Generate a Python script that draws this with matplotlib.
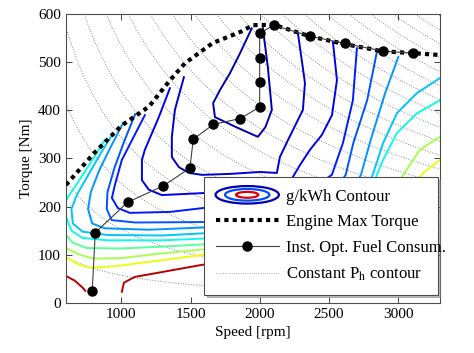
import numpy as np
import matplotlib.pyplot as plt
from matplotlib.legend_handler import HandlerBase
from matplotlib.patches import Ellipse
from matplotlib.lines import Line2D

plt.rcParams['font.family'] = ['Liberation Serif', 'DejaVu Serif']
plt.rcParams['mathtext.fontset'] = 'stix'
plt.rcParams['font.size'] = 11

# engine max torque line
mt_speed = [600, 800, 1000, 1200, 1350, 1460, 1660, 1860, 1950, 2100, 2360, 2610, 2880, 3100, 3300]
mt_torque = [245, 310, 368, 408, 462, 498, 540, 563, 577, 578, 554, 538, 523, 519, 515]

# instantaneous optimal fuel consumption points
opt_speed = [790, 812, 1045, 1303, 1495, 1520, 1665, 1860, 1999, 1999, 1999, 1999, 2100, 2365, 2614, 2890, 3105]
opt_torque = [25, 146, 209, 243, 280, 340, 371, 383, 407, 459, 508, 560, 577, 554, 539, 523, 519]

# constant power levels [kW]
p_levels = [6, 16, 26, 36, 46, 56, 66, 76, 86, 96, 106, 116, 126, 136, 146, 156, 166, 176, 186, 196, 206]

# bsfc contour lines (speed rpm, torque Nm), with jet colour position
c1_speed = [1941, 1856, 1784, 1712, 1663, 1676, 1830, 1986, 2040, 2087, 2058, 2022]
c1_torque = [570, 518, 477, 442, 415, 386, 365, 345, 365, 401, 490, 571]
c2_speed = [1452, 1387, 1365, 1365, 1416, 1488, 1582, 1784, 2001, 2123, 2145, 2203, 2311, 2326, 2275]
c2_torque = [469, 401, 345, 303, 282, 270, 266, 268, 272, 270, 303, 338, 401, 457, 561]
c3_speed = [1351, 1271, 1170, 1149, 1149, 1199, 1293, 1582, 1928, 2217, 2289, 2362, 2448, 2521, 2557, 2528]
c3_torque = [446, 386, 318, 297, 255, 235, 224, 228, 235, 251, 286, 318, 349, 390, 463, 542]
c4_speed = [1170, 1077, 1004, 954, 932, 975, 1062, 1351, 1589, 2001, 2362, 2520, 2600, 2672, 2701]
c4_torque = [390, 338, 297, 245, 218, 197, 187, 189, 197, 214, 235, 266, 332, 421, 529]
c5_speed = [1100, 1020, 950, 900, 895, 930, 1100, 1620, 2200, 2520, 2620, 2675, 2775, 2845]
c5_torque = [392, 335, 280, 230, 195, 172, 167, 168, 190, 225, 266, 332, 421, 521]
c6_speed = [1010, 920, 840, 780, 760, 790, 880, 1200, 1620, 2300, 2650, 2730, 2800, 2905, 3000]
c6_torque = [372, 322, 275, 230, 195, 165, 155, 152, 157, 180, 225, 266, 338, 436, 511]
c7_speed = [940, 850, 760, 680, 640, 650, 720, 900, 1300, 1620, 2400, 2750, 2815, 2890, 2990, 3135, 3300]
c7_torque = [352, 310, 265, 225, 195, 165, 148, 141, 140, 145, 170, 225, 266, 332, 394, 436, 467]
c8a_speed = [880, 780, 690, 620, 600]
c8a_torque = [338, 292, 252, 222, 212]
c8_speed = [600, 640, 720, 900, 1300, 1620, 2500, 2800, 2845, 2890, 2990, 3135, 3300]
c8_torque = [180, 150, 135, 130, 130, 134, 160, 225, 266, 297, 353, 394, 421]
c9_speed = [600, 650, 750, 1000, 1300, 1620, 2600, 3300]
c9_torque = [141, 125, 114, 113, 117, 122, 150, 190]
c10_speed = [600, 700, 800, 1000, 1300, 1620, 2700, 2950, 3035, 3155, 3300]
c10_torque = [114, 100, 92, 93, 103, 112, 160, 230, 266, 318, 345]
c11_speed = [600, 690, 780, 950, 1300, 1620, 2800, 3100, 3180, 3300]
c11_torque = [95, 80, 73, 76, 89, 101, 150, 240, 270, 297]
c12a_speed = [600, 665, 723, 740]
c12a_torque = [56, 46, 31, 25]
c12_speed = [1004, 1019, 1098, 1293, 1582, 1800]
c12_torque = [23, 42, 54, 64, 79, 85]

contours = [
    (c1_speed, c1_torque, 0.04), (c2_speed, c2_torque, 0.07), (c3_speed, c3_torque, 0.10),
    (c4_speed, c4_torque, 0.15), (c5_speed, c5_torque, 0.21), (c6_speed, c6_torque, 0.27),
    (c7_speed, c7_torque, 0.32), (c8a_speed, c8a_torque, 0.37), (c8_speed, c8_torque, 0.37),
    (c9_speed, c9_torque, 0.46), (c10_speed, c10_torque, 0.55), (c11_speed, c11_torque, 0.63),
    (c12a_speed, c12a_torque, 0.95), (c12_speed, c12_torque, 0.95),
]


class ContourIcon(HandlerBase):
    def create_artists(self, legend, orig_handle, xdescent, ydescent, width, height, fontsize, trans):
        cx = 0.5 * width - xdescent
        cy = 0.5 * height - ydescent
        arts = []
        for fw, fh, c in [(1.0, 1.5, plt.cm.jet(0.05)), (0.7, 1.0, plt.cm.jet(0.2)), (0.35, 0.5, plt.cm.jet(0.92))]:
            e = Ellipse((cx, cy), width * fw, height * fh, fill=False, edgecolor=c, lw=1.6, transform=trans)
            arts.append(e)
        return arts


fig = plt.figure(figsize=(4.74, 3.53), dpi=100)
ax = fig.add_axes([0.139, 0.142, 0.789, 0.818])

# constant power hyperbolas
N, T = np.meshgrid(np.linspace(600, 3300, 200), np.linspace(0, 600, 200))
ax.contour(N, T, N * T / 9549.0, levels=p_levels, colors='0.55', linewidths=0.7, linestyles=':')

for sp, tq, f in contours:
    ax.plot(sp, tq, color=plt.cm.jet(f), lw=1.4, zorder=2)

ax.plot(mt_speed, mt_torque, color='black', lw=3, linestyle=(0, (1, 1)), zorder=3)
ax.plot(opt_speed, opt_torque, color='0.25', lw=0.8, marker='o', markersize=6.5,
        markerfacecolor='black', markeredgecolor='black', zorder=4)

ax.set_xlim(600, 3300)
ax.set_ylim(0, 600)
ax.set_xticks([1000, 1500, 2000, 2500, 3000])
ax.set_yticks([0, 100, 200, 300, 400, 500, 600])
ax.tick_params(direction='in', top=True, right=True, length=4, width=0.6, colors='0.15', labelcolor='black')
for s in ax.spines.values():
    s.set_color('0.3')
    s.set_linewidth(0.8)
ax.set_xlabel('Speed [rpm]')
ax.set_ylabel('Torque [Nm]')

h_cont = Line2D([], [])
h_max = Line2D([], [], color='black', lw=3, linestyle=(0, (1, 1)))
h_opt = Line2D([], [], color='0.25', lw=0.8, marker='o', markersize=6.5, markerfacecolor='black', markeredgecolor='black')
h_pow = Line2D([], [], color='0.55', lw=0.6, linestyle=':')
leg = ax.legend([h_cont, h_max, h_opt, h_pow],
                ['g/kWh Contour', 'Engine Max Torque', 'Inst. Opt. Fuel Consum.', 'Constant P$_\\mathrm{h}$ contour'],
                handler_map={h_cont: ContourIcon()}, loc='upper left',
                bbox_to_anchor=(0.369, 0.0, 0.625, 0.436), mode='expand', borderaxespad=0,
                fontsize=12, handlelength=3.8, handletextpad=0.4, labelspacing=0.58,
                borderpad=0.7, fancybox=False, framealpha=1, edgecolor='0.3',
                shadow={'color': '0.5'}, numpoints=1)
leg.get_frame().set_linewidth(0.8)

fig.savefig('out.png', dpi=100)
